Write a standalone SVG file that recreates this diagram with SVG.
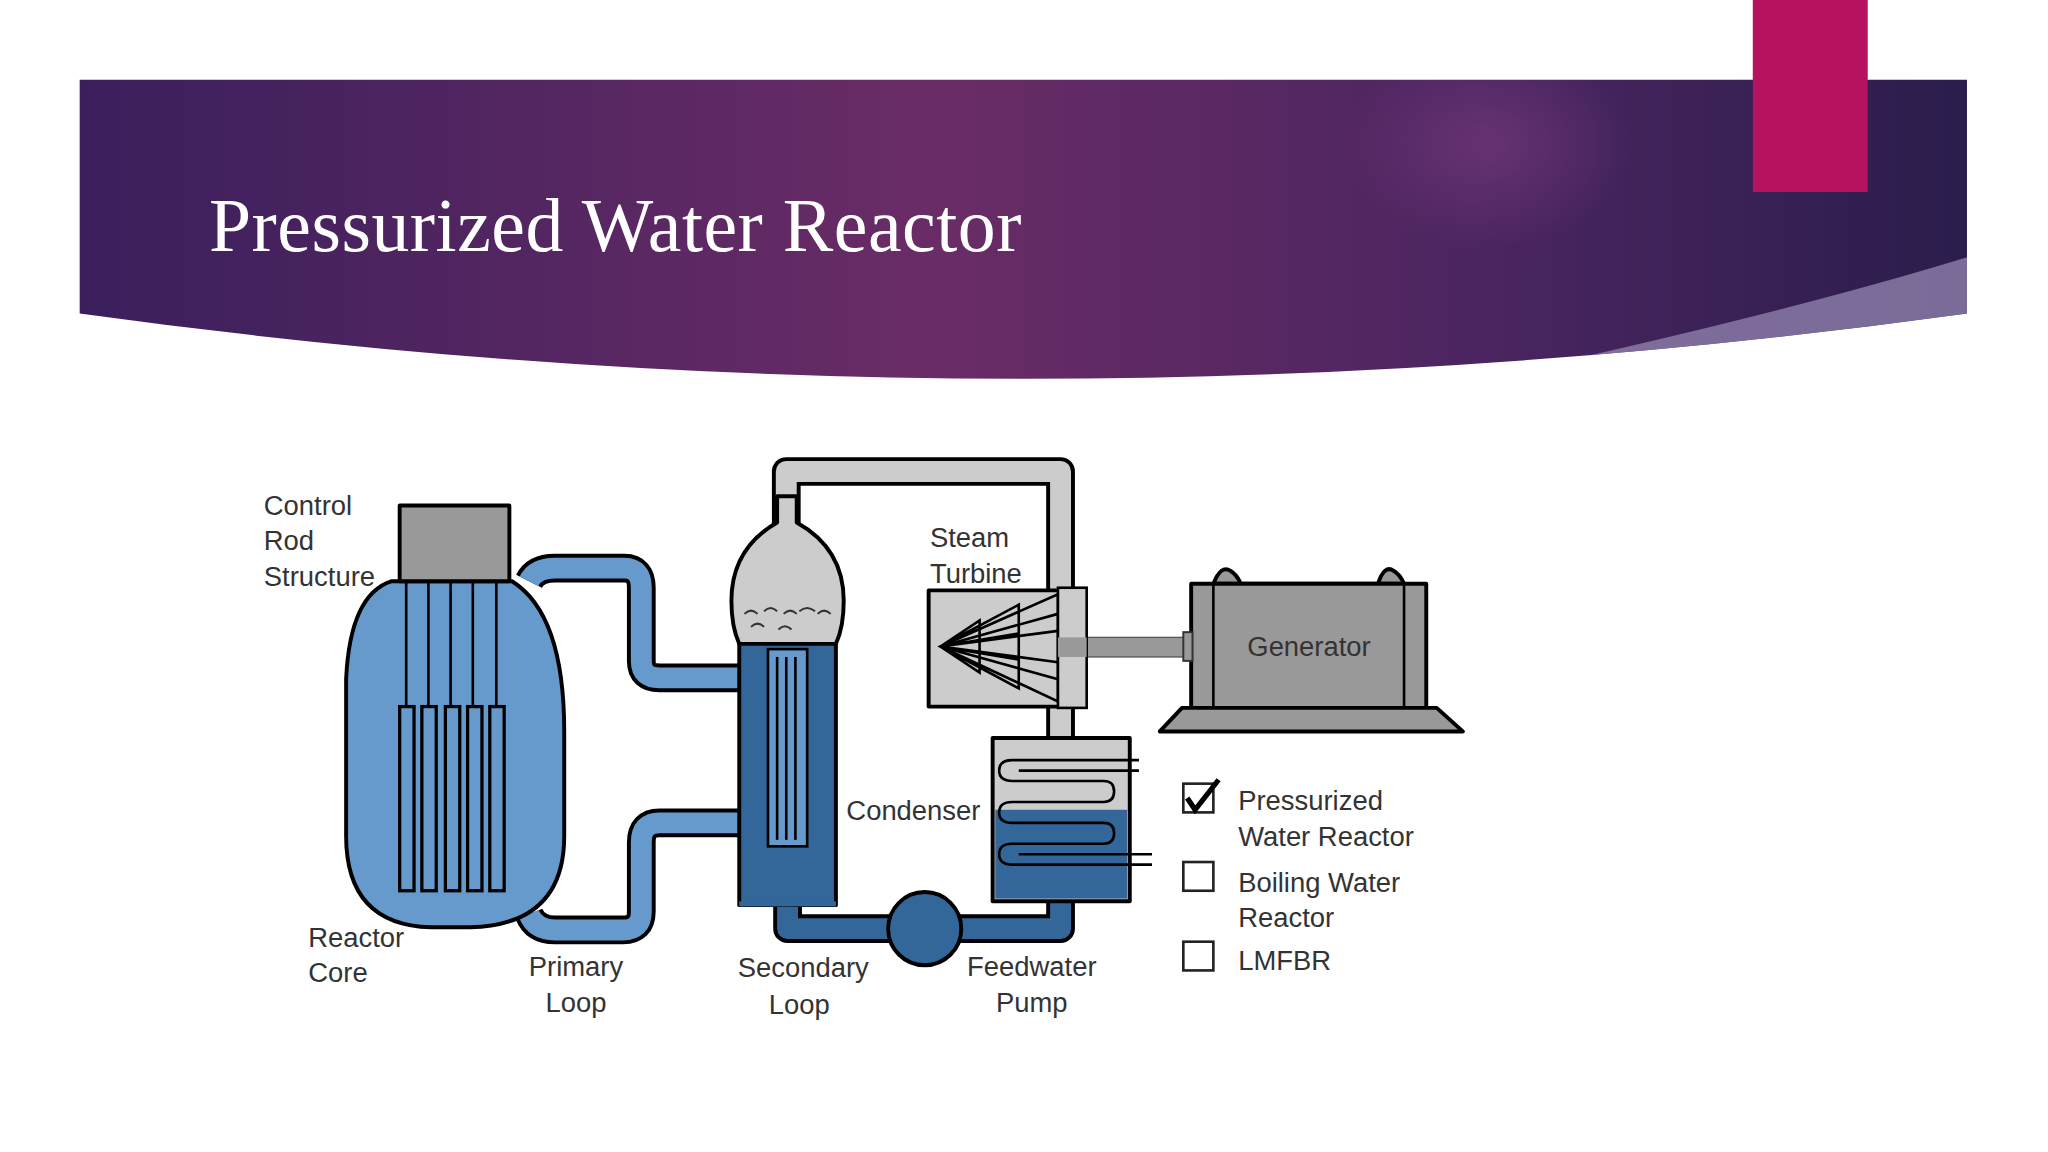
<svg xmlns="http://www.w3.org/2000/svg" width="2048" height="1152" viewBox="0 0 2048 1152">
<defs>
<linearGradient id="band" x1="0" y1="0" x2="1" y2="0">
<stop offset="0" stop-color="#3a1f5c"/><stop offset="0.45" stop-color="#6a2c66"/><stop offset="0.75" stop-color="#4a2560"/><stop offset="1" stop-color="#2a1d4c"/>
</linearGradient>
<radialGradient id="glow" cx="0.5" cy="0.5" r="0.5"><stop offset="0" stop-color="#7a3a80" stop-opacity="0.6"/><stop offset="1" stop-color="#7a3a80" stop-opacity="0"/></radialGradient>
<clipPath id="bandClip"><path d="M61,61 H1506 V240 Q783,340 61,240 Z"/></clipPath>
<style>
.lbl{font-family:"Liberation Sans",Arial,sans-serif;font-size:21px;fill:#333}
.ol{stroke:#000;stroke-width:3;stroke-linejoin:round}
.pipeO{fill:none;stroke:#000;stroke-width:22;stroke-linejoin:round}
.pipeB{fill:none;stroke:#6699cc;stroke-width:16;stroke-linejoin:round}
.pipeD{fill:none;stroke:#336699;stroke-width:16;stroke-linejoin:round}
.pipeG{fill:none;stroke:#cccccc;stroke-width:16;stroke-linejoin:round}
.thin{fill:none;stroke:#000;stroke-width:2}
.box{fill:#fff;stroke:#222;stroke-width:2}
</style>
</defs>
<rect width="2048" height="1152" fill="#fff"/>
<g transform="scale(1.3061)">
<g id="header">
<path d="M61,61 H1506 V240 Q783,340 61,240 Z" fill="url(#band)"/>
<g clip-path="url(#bandClip)">
<ellipse cx="1140" cy="110" rx="110" ry="80" fill="url(#glow)"/>
<path d="M1090,300 Q1350,245 1506,197 V260 Z" fill="#8f80ab" opacity="0.8"/>
</g>
<rect x="1342" y="0" width="88" height="147" fill="#b5135f"/>
<text x="160" y="192" font-family="Liberation Serif,Times New Roman,serif" font-size="58" fill="#fff" textLength="622">Pressurized Water Reactor</text>
</g>
<g id="connectors">
<path d="M602,420 V361 H812 V460" class="pipeO" stroke-width="20"/>
<path d="M602,420 V361 H812 V460" class="pipeG"/>
<path d="M812,535 V575" class="pipeO" stroke-width="20"/>
<path d="M812,535 V575" class="pipeG"/>
<path d="M603,680 V711 H812 V680" class="pipeO" stroke-width="20"/>
<path d="M603,680 V711 H812 V680" class="pipeD"/>
<path d="M405,445 Q410,435 425,435 H478 Q491,435 491,450 V506 Q491,519 505,519 H592" class="pipeO"/>
<path d="M405,445 Q410,435 425,435 H478 Q491,435 491,450 V506 Q491,519 505,519 H592" class="pipeB"/>
<path d="M592,630 H505 Q491,630 491,645 V698 Q491,712 477,712 H425 Q410,712 405,700" class="pipeO"/>
<path d="M592,630 H505 Q491,630 491,645 V698 Q491,712 477,712 H425 Q410,712 405,700" class="pipeB"/>
<rect x="830" y="488" width="80" height="15" fill="#999" stroke="#555" stroke-width="1"/>
</g>
<g id="reactor">
<path d="M300,445 H392 Q432,470 432,560 V640 Q432,708 360,710 H330 Q265,708 265,640 V520 Q268,455 300,445 Z" fill="#6699cc" class="ol"/>
<rect x="306" y="387" width="84" height="58" fill="#999" class="ol"/>
<g class="thin" stroke-width="2.5">
<line x1="311" y1="445" x2="311" y2="540"/><line x1="328" y1="445" x2="328" y2="540"/><line x1="345" y1="445" x2="345" y2="540"/><line x1="362" y1="445" x2="362" y2="540"/><line x1="380" y1="445" x2="380" y2="540"/>
</g>
<g fill="#6699cc" stroke="#000" stroke-width="2.5">
<rect x="306" y="541" width="11" height="141"/><rect x="323" y="541" width="11" height="141"/><rect x="341" y="541" width="11" height="141"/><rect x="358" y="541" width="11" height="141"/><rect x="375" y="541" width="11" height="141"/>
</g>
</g>
<g id="steam-generator">
<path d="M595,380 V400 Q560,420 560,460 Q560,480 566,493 H640 Q646,480 646,460 Q646,420 610,400 V380 Z" fill="#ccc" class="ol"/>
<rect x="566" y="493" width="74" height="200" fill="#336699" class="ol"/>
<rect x="588" y="497" width="30" height="151" fill="#6699cc" stroke="#000" stroke-width="2"/>
<g class="thin"><line x1="595" y1="503" x2="595" y2="643"/><line x1="602" y1="503" x2="602" y2="643"/><line x1="609" y1="503" x2="609" y2="643"/></g>
<g fill="none" stroke="#333" stroke-width="1.5">
<path d="M570,470 q5,-5 10,0 M585,468 q5,-5 10,0 M600,470 q5,-5 10,0 M612,468 q6,-5 12,0 M626,470 q5,-5 10,0 M575,480 q5,-5 10,0 M596,482 q5,-5 10,0"/>
</g>
<rect x="566" y="690" width="74" height="4" fill="#336699"/>
</g>
<g id="turbine">
<rect x="711" y="452" width="118" height="89" fill="#ccc" class="ol"/>
<g class="thin" stroke-width="1.5">
<path d="M720,495 L750,475 V515 Z M720,495 L780,463 V527 Z M720,495 L810,455 V537 Z"/>
<path d="M720,495 L810,470 M720,495 L810,483 M720,495 L810,507 M720,495 L810,520 M720,495 L780,485 M720,495 L780,505"/>
</g>
<rect x="810" y="450" width="22" height="92" fill="#ccc" stroke="#000" stroke-width="2"/>
<rect x="810" y="488" width="22" height="15" fill="#999"/>
</g>
<g id="condenser">
<rect x="760" y="565" width="105" height="125" fill="#ccc" class="ol"/>
<rect x="762" y="620" width="101" height="68" fill="#336699"/>
<g class="thin" stroke-width="2">
<path d="M872,582 H775 Q765,582 765,590 Q765,598 775,598 H845 Q853,598 853,606 Q853,614 845,614 H775 Q765,614 765,622 Q765,630 775,630 H845 Q853,630 853,638 Q853,646 845,646 H775 Q765,646 765,654 Q765,662 775,662 H882"/>
<path d="M872,590 H780 M882,654 H780"/>
</g>
</g>
<g id="pump"><circle cx="708" cy="711" r="28" fill="#336699" class="ol"/></g>
<g id="generator">
<path d="M929,447 Q935,432 942,437 Q947,440 950,447 H1055 Q1060,432 1067,437 Q1072,440 1075,447 Z" fill="#999" class="ol"/>
<rect x="912" y="447" width="180" height="95" fill="#999" class="ol"/>
<line x1="929" y1="447" x2="929" y2="542" class="thin"/><line x1="1075" y1="447" x2="1075" y2="542" class="thin"/>
<rect x="906" y="484" width="7" height="22" fill="#999" stroke="#333" stroke-width="1.5"/>
<path d="M905,542 H1100 L1120,560 H888 Z" fill="#999" class="ol"/>
<text x="955" y="502" class="lbl">Generator</text>
</g>
<g id="labels">
<text class="lbl"><tspan x="202" y="394">Control</tspan><tspan x="202" y="421">Rod</tspan><tspan x="202" y="449">Structure</tspan></text>
<text class="lbl"><tspan x="236" y="725">Reactor</tspan><tspan x="236" y="752">Core</tspan></text>
<text class="lbl" text-anchor="middle"><tspan x="441" y="747">Primary</tspan><tspan x="441" y="775">Loop</tspan></text>
<text class="lbl" text-anchor="middle"><tspan x="615" y="748">Secondary</tspan><tspan x="612" y="776">Loop</tspan></text>
<text class="lbl" text-anchor="middle"><tspan x="790" y="747">Feedwater</tspan><tspan x="790" y="775">Pump</tspan></text>
<text class="lbl"><tspan x="712" y="419">Steam</tspan><tspan x="712" y="446">Turbine</tspan></text>
<text x="648" y="628" class="lbl">Condenser</text>
</g>
<g id="legend">
<rect x="906" y="600" width="23" height="22" class="box"/>
<path d="M909,611 L915,620 L933,597" fill="none" stroke="#000" stroke-width="4"/>
<rect x="906" y="660" width="23" height="22" class="box"/>
<rect x="906" y="721" width="23" height="22" class="box"/>
<text class="lbl"><tspan x="948" y="620">Pressurized</tspan><tspan x="948" y="648">Water Reactor</tspan><tspan x="948" y="683">Boiling Water</tspan><tspan x="948" y="710">Reactor</tspan><tspan x="948" y="743">LMFBR</tspan></text>
</g>
</g>
</svg>
